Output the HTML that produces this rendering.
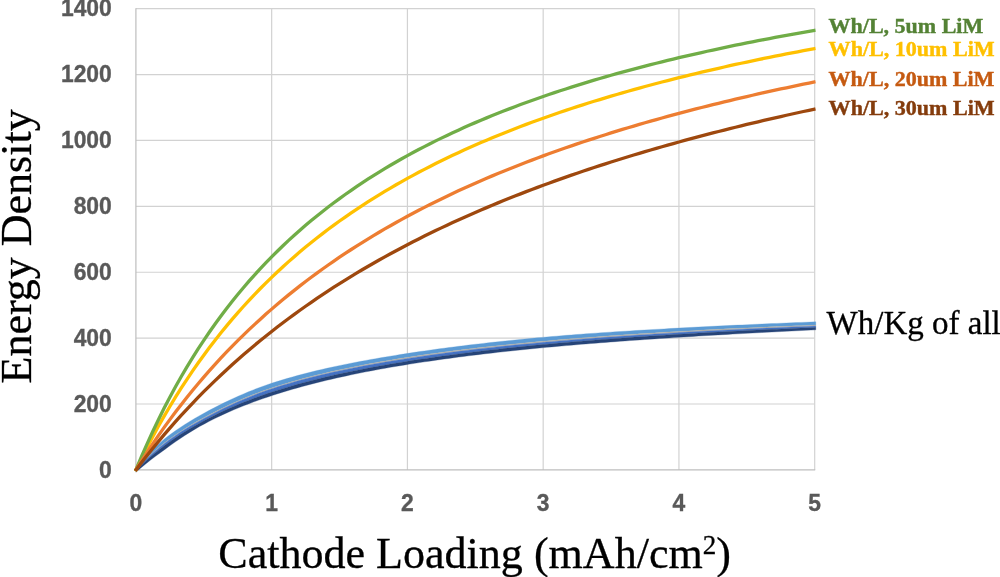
<!DOCTYPE html>
<html lang="en"><head><meta charset="utf-8"><title>Energy Density vs Cathode Loading</title>
<style>
html,body{margin:0;padding:0;background:#fff;}
body{width:1000px;height:577px;position:relative;overflow:hidden;}
</style></head><body>
<svg width="1000" height="577" viewBox="0 0 1000 577" style="position:absolute;left:0;top:0">
<rect width="1000" height="577" fill="#fff"/>
<g stroke="#D2D2D2" stroke-width="1.2" fill="none"><line x1="135.9" y1="404.01" x2="814.7" y2="404.01"/><line x1="135.9" y1="338.12" x2="814.7" y2="338.12"/><line x1="135.9" y1="272.23" x2="814.7" y2="272.23"/><line x1="135.9" y1="206.33" x2="814.7" y2="206.33"/><line x1="135.9" y1="140.44" x2="814.7" y2="140.44"/><line x1="135.9" y1="74.55" x2="814.7" y2="74.55"/><line x1="135.9" y1="8.66" x2="814.7" y2="8.66"/><line x1="271.66" y1="8.66" x2="271.66" y2="469.90"/><line x1="407.42" y1="8.66" x2="407.42" y2="469.90"/><line x1="543.18" y1="8.66" x2="543.18" y2="469.90"/><line x1="678.94" y1="8.66" x2="678.94" y2="469.90"/><line x1="814.70" y1="8.66" x2="814.70" y2="469.90"/></g>
<g stroke="#BEBEBE" stroke-width="1.2"><line x1="135.9" y1="8.16" x2="135.9" y2="470.40"/><line x1="135.4" y1="469.9" x2="815.2" y2="469.9"/></g>
<path d="M135.90,467.50 L140.79,461.89 L145.68,456.58 L150.57,451.57 L155.47,446.86 L160.36,442.45 L165.25,438.36 L170.14,434.58 L175.03,431.05 L179.92,427.69 L184.81,424.49 L189.70,421.44 L194.60,418.51 L199.49,415.69 L204.38,412.97 L209.27,410.33 L214.16,407.76 L219.05,405.27 L223.94,402.84 L228.83,400.49 L233.73,398.22 L238.62,396.02 L243.51,393.89 L248.40,391.84 L253.29,389.88 L258.18,387.99 L263.07,386.19 L267.96,384.48 L272.86,382.86 L277.75,381.31 L282.64,379.81 L287.53,378.36 L292.42,376.95 L297.31,375.60 L302.20,374.29 L307.09,373.02 L311.99,371.79 L316.88,370.60 L321.77,369.45 L326.66,368.33 L331.55,367.24 L336.44,366.18 L341.33,365.16 L346.22,364.16 L351.12,363.18 L356.01,362.24 L360.90,361.31 L365.79,360.41 L370.68,359.53 L375.57,358.67 L380.46,357.82 L385.35,356.99 L390.25,356.18 L395.14,355.39 L400.03,354.61 L404.92,353.84 L409.81,353.08 L414.70,352.34 L419.59,351.61 L424.48,350.90 L429.38,350.21 L434.27,349.52 L439.16,348.85 L444.05,348.20 L448.94,347.55 L453.83,346.92 L458.72,346.30 L463.61,345.69 L468.51,345.10 L473.40,344.51 L478.29,343.94 L483.18,343.38 L488.07,342.83 L492.96,342.29 L497.85,341.76 L502.75,341.24 L507.64,340.73 L512.53,340.23 L517.42,339.73 L522.31,339.25 L527.20,338.78 L532.09,338.32 L536.98,337.86 L541.88,337.42 L546.77,336.98 L551.66,336.56 L556.55,336.14 L561.44,335.73 L566.33,335.34 L571.22,334.95 L576.11,334.57 L581.01,334.20 L585.90,333.84 L590.79,333.48 L595.68,333.14 L600.57,332.80 L605.46,332.46 L610.35,332.14 L615.24,331.81 L620.14,331.50 L625.03,331.19 L629.92,330.89 L634.81,330.59 L639.70,330.29 L644.59,330.00 L649.48,329.71 L654.37,329.43 L659.27,329.15 L664.16,328.88 L669.05,328.60 L673.94,328.33 L678.83,328.07 L683.72,327.80 L688.61,327.54 L693.50,327.28 L698.40,327.03 L703.29,326.78 L708.18,326.53 L713.07,326.29 L717.96,326.05 L722.85,325.81 L727.74,325.58 L732.63,325.35 L737.53,325.12 L742.42,324.90 L747.31,324.68 L752.20,324.46 L757.09,324.24 L761.98,324.03 L766.87,323.82 L771.76,323.61 L776.66,323.41 L781.55,323.21 L786.44,323.01 L791.33,322.81 L796.22,322.62 L801.11,322.42 L806.00,322.23 L810.89,322.04 L815.79,321.85 L815.79,325.05 L810.89,325.25 L806.00,325.43 L801.11,325.63 L796.22,325.82 L791.33,326.02 L786.44,326.22 L781.55,326.42 L776.66,326.62 L771.76,326.83 L766.87,327.04 L761.98,327.26 L757.09,327.48 L752.20,327.70 L747.31,327.92 L742.42,328.15 L737.53,328.38 L732.63,328.62 L727.74,328.85 L722.85,329.10 L717.96,329.34 L713.07,329.59 L708.18,329.84 L703.29,330.10 L698.40,330.36 L693.50,330.63 L688.61,330.90 L683.72,331.17 L678.83,331.45 L673.94,331.73 L669.05,332.01 L664.16,332.30 L659.27,332.60 L654.37,332.90 L649.48,333.20 L644.59,333.51 L639.70,333.82 L634.81,334.14 L629.92,334.47 L625.03,334.80 L620.14,335.13 L615.24,335.47 L610.35,335.81 L605.46,336.17 L600.57,336.52 L595.68,336.88 L590.79,337.25 L585.90,337.63 L581.01,338.01 L576.11,338.40 L571.22,338.79 L566.33,339.20 L561.44,339.61 L556.55,340.02 L551.66,340.45 L546.77,340.88 L541.88,341.32 L536.98,341.77 L532.09,342.22 L527.20,342.69 L522.31,343.16 L517.42,343.64 L512.53,344.13 L507.64,344.63 L502.75,345.14 L497.85,345.66 L492.96,346.19 L488.07,346.73 L483.18,347.27 L478.29,347.83 L473.40,348.41 L468.51,348.99 L463.61,349.58 L458.72,350.19 L453.83,350.80 L448.94,351.44 L444.05,352.08 L439.16,352.74 L434.27,353.41 L429.38,354.09 L424.48,354.79 L419.59,355.50 L414.70,356.23 L409.81,356.98 L404.92,357.74 L400.03,358.52 L395.14,359.32 L390.25,360.13 L385.35,360.96 L380.46,361.82 L375.57,362.69 L370.68,363.58 L365.79,364.50 L360.90,365.44 L356.01,366.40 L351.12,367.38 L346.22,368.40 L341.33,369.43 L336.44,370.50 L331.55,371.60 L326.66,372.72 L321.77,373.88 L316.88,375.07 L311.99,376.29 L307.09,377.55 L302.20,378.85 L297.31,380.18 L292.42,381.56 L287.53,382.98 L282.64,384.44 L277.75,385.95 L272.86,387.51 L267.96,389.13 L263.07,390.84 L258.18,392.64 L253.29,394.53 L248.40,396.49 L243.51,398.53 L238.62,400.64 L233.73,402.83 L228.83,405.09 L223.94,407.42 L219.05,409.81 L214.16,412.27 L209.27,414.79 L204.38,417.38 L199.49,420.05 L194.60,422.83 L189.70,425.72 L184.81,428.75 L179.92,431.91 L175.03,435.22 L170.14,438.68 L165.25,442.34 L160.36,446.22 L155.47,450.33 L150.57,454.68 L145.68,459.28 L140.79,464.14 L135.90,469.27Z" fill="#5B9BD5" stroke="#5B9BD5" stroke-width="0.3"/>
<path d="M135.90,469.27 L140.79,464.14 L145.68,459.28 L150.57,454.68 L155.47,450.33 L160.36,446.22 L165.25,442.34 L170.14,438.68 L175.03,435.22 L179.92,431.91 L184.81,428.75 L189.70,425.72 L194.60,422.83 L199.49,420.05 L204.38,417.38 L209.27,414.79 L214.16,412.27 L219.05,409.81 L223.94,407.42 L228.83,405.09 L233.73,402.83 L238.62,400.64 L243.51,398.53 L248.40,396.49 L253.29,394.53 L258.18,392.64 L263.07,390.84 L267.96,389.13 L272.86,387.51 L277.75,385.95 L282.64,384.44 L287.53,382.98 L292.42,381.56 L297.31,380.18 L302.20,378.85 L307.09,377.55 L311.99,376.29 L316.88,375.07 L321.77,373.88 L326.66,372.72 L331.55,371.60 L336.44,370.50 L341.33,369.43 L346.22,368.40 L351.12,367.38 L356.01,366.40 L360.90,365.44 L365.79,364.50 L370.68,363.58 L375.57,362.69 L380.46,361.82 L385.35,360.96 L390.25,360.13 L395.14,359.32 L400.03,358.52 L404.92,357.74 L409.81,356.98 L414.70,356.23 L419.59,355.50 L424.48,354.79 L429.38,354.09 L434.27,353.41 L439.16,352.74 L444.05,352.08 L448.94,351.44 L453.83,350.80 L458.72,350.19 L463.61,349.58 L468.51,348.99 L473.40,348.41 L478.29,347.83 L483.18,347.27 L488.07,346.73 L492.96,346.19 L497.85,345.66 L502.75,345.14 L507.64,344.63 L512.53,344.13 L517.42,343.64 L522.31,343.16 L527.20,342.69 L532.09,342.22 L536.98,341.77 L541.88,341.32 L546.77,340.88 L551.66,340.45 L556.55,340.02 L561.44,339.61 L566.33,339.20 L571.22,338.79 L576.11,338.40 L581.01,338.01 L585.90,337.63 L590.79,337.25 L595.68,336.88 L600.57,336.52 L605.46,336.17 L610.35,335.81 L615.24,335.47 L620.14,335.13 L625.03,334.80 L629.92,334.47 L634.81,334.14 L639.70,333.82 L644.59,333.51 L649.48,333.20 L654.37,332.90 L659.27,332.60 L664.16,332.30 L669.05,332.01 L673.94,331.73 L678.83,331.45 L683.72,331.17 L688.61,330.90 L693.50,330.63 L698.40,330.36 L703.29,330.10 L708.18,329.84 L713.07,329.59 L717.96,329.34 L722.85,329.10 L727.74,328.85 L732.63,328.62 L737.53,328.38 L742.42,328.15 L747.31,327.92 L752.20,327.70 L757.09,327.48 L761.98,327.26 L766.87,327.04 L771.76,326.83 L776.66,326.62 L781.55,326.42 L786.44,326.22 L791.33,326.02 L796.22,325.82 L801.11,325.63 L806.00,325.43 L810.89,325.25 L815.79,325.05 L815.79,326.05 L810.89,326.25 L806.00,326.45 L801.11,326.65 L796.22,326.85 L791.33,327.05 L786.44,327.26 L781.55,327.47 L776.66,327.68 L771.76,327.90 L766.87,328.12 L761.98,328.34 L757.09,328.56 L752.20,328.79 L747.31,329.02 L742.42,329.25 L737.53,329.49 L732.63,329.73 L727.74,329.97 L722.85,330.22 L717.96,330.47 L713.07,330.72 L708.18,330.98 L703.29,331.24 L698.40,331.51 L693.50,331.78 L688.61,332.05 L683.72,332.33 L678.83,332.61 L673.94,332.89 L669.05,333.18 L664.16,333.47 L659.27,333.77 L654.37,334.07 L649.48,334.38 L644.59,334.69 L639.70,335.01 L634.81,335.33 L629.92,335.65 L625.03,335.98 L620.14,336.32 L615.24,336.66 L610.35,337.01 L605.46,337.36 L600.57,337.72 L595.68,338.08 L590.79,338.45 L585.90,338.83 L581.01,339.21 L576.11,339.60 L571.22,340.00 L566.33,340.40 L561.44,340.81 L556.55,341.22 L551.66,341.65 L546.77,342.08 L541.88,342.52 L536.98,342.96 L532.09,343.42 L527.20,343.88 L522.31,344.36 L517.42,344.84 L512.53,345.33 L507.64,345.82 L502.75,346.33 L497.85,346.85 L492.96,347.38 L488.07,347.92 L483.18,348.46 L478.29,349.02 L473.40,349.59 L468.51,350.17 L463.61,350.77 L458.72,351.37 L453.83,351.98 L448.94,352.61 L444.05,353.25 L439.16,353.91 L434.27,354.58 L429.38,355.26 L424.48,355.95 L419.59,356.66 L414.70,357.39 L409.81,358.13 L404.92,358.89 L400.03,359.66 L395.14,360.45 L390.25,361.26 L385.35,362.08 L380.46,362.93 L375.57,363.79 L370.68,364.67 L365.79,365.57 L360.90,366.50 L356.01,367.45 L351.12,368.42 L346.22,369.42 L341.33,370.45 L336.44,371.50 L331.55,372.59 L326.66,373.70 L321.77,374.85 L316.88,376.02 L311.99,377.24 L307.09,378.49 L302.20,379.78 L297.31,381.10 L292.42,382.47 L287.53,383.89 L282.64,385.35 L277.75,386.85 L272.86,388.41 L267.96,390.03 L263.07,391.74 L258.18,393.54 L253.29,395.43 L248.40,397.39 L243.51,399.43 L238.62,401.55 L233.73,403.74 L228.83,406.00 L223.94,408.32 L219.05,410.72 L214.16,413.17 L209.27,415.70 L204.38,418.28 L199.49,420.93 L194.60,423.68 L189.70,426.53 L184.81,429.50 L179.92,432.62 L175.03,435.89 L170.14,439.33 L165.25,442.98 L160.36,446.84 L155.47,450.92 L150.57,455.23 L145.68,459.79 L140.79,464.62 L135.90,469.72Z" fill="#B3B0A8" stroke="#B3B0A8" stroke-width="0.3"/>
<path d="M135.90,469.72 L140.79,464.62 L145.68,459.79 L150.57,455.23 L155.47,450.92 L160.36,446.84 L165.25,442.98 L170.14,439.33 L175.03,435.89 L179.92,432.62 L184.81,429.50 L189.70,426.53 L194.60,423.68 L199.49,420.93 L204.38,418.28 L209.27,415.70 L214.16,413.17 L219.05,410.72 L223.94,408.32 L228.83,406.00 L233.73,403.74 L238.62,401.55 L243.51,399.43 L248.40,397.39 L253.29,395.43 L258.18,393.54 L263.07,391.74 L267.96,390.03 L272.86,388.41 L277.75,386.85 L282.64,385.35 L287.53,383.89 L292.42,382.47 L297.31,381.10 L302.20,379.78 L307.09,378.49 L311.99,377.24 L316.88,376.02 L321.77,374.85 L326.66,373.70 L331.55,372.59 L336.44,371.50 L341.33,370.45 L346.22,369.42 L351.12,368.42 L356.01,367.45 L360.90,366.50 L365.79,365.57 L370.68,364.67 L375.57,363.79 L380.46,362.93 L385.35,362.08 L390.25,361.26 L395.14,360.45 L400.03,359.66 L404.92,358.89 L409.81,358.13 L414.70,357.39 L419.59,356.66 L424.48,355.95 L429.38,355.26 L434.27,354.58 L439.16,353.91 L444.05,353.25 L448.94,352.61 L453.83,351.98 L458.72,351.37 L463.61,350.77 L468.51,350.17 L473.40,349.59 L478.29,349.02 L483.18,348.46 L488.07,347.92 L492.96,347.38 L497.85,346.85 L502.75,346.33 L507.64,345.82 L512.53,345.33 L517.42,344.84 L522.31,344.36 L527.20,343.88 L532.09,343.42 L536.98,342.96 L541.88,342.52 L546.77,342.08 L551.66,341.65 L556.55,341.22 L561.44,340.81 L566.33,340.40 L571.22,340.00 L576.11,339.60 L581.01,339.21 L585.90,338.83 L590.79,338.45 L595.68,338.08 L600.57,337.72 L605.46,337.36 L610.35,337.01 L615.24,336.66 L620.14,336.32 L625.03,335.98 L629.92,335.65 L634.81,335.33 L639.70,335.01 L644.59,334.69 L649.48,334.38 L654.37,334.07 L659.27,333.77 L664.16,333.47 L669.05,333.18 L673.94,332.89 L678.83,332.61 L683.72,332.33 L688.61,332.05 L693.50,331.78 L698.40,331.51 L703.29,331.24 L708.18,330.98 L713.07,330.72 L717.96,330.47 L722.85,330.22 L727.74,329.97 L732.63,329.73 L737.53,329.49 L742.42,329.25 L747.31,329.02 L752.20,328.79 L757.09,328.56 L761.98,328.34 L766.87,328.12 L771.76,327.90 L776.66,327.68 L781.55,327.47 L786.44,327.26 L791.33,327.05 L796.22,326.85 L801.11,326.65 L806.00,326.45 L810.89,326.25 L815.79,326.05 L815.79,327.45 L810.89,327.66 L806.00,327.86 L801.11,328.06 L796.22,328.27 L791.33,328.48 L786.44,328.69 L781.55,328.91 L776.66,329.13 L771.76,329.35 L766.87,329.58 L761.98,329.81 L757.09,330.04 L752.20,330.27 L747.31,330.51 L742.42,330.76 L737.53,331.00 L732.63,331.25 L727.74,331.50 L722.85,331.76 L717.96,332.02 L713.07,332.29 L708.18,332.55 L703.29,332.83 L698.40,333.10 L693.50,333.39 L688.61,333.67 L683.72,333.96 L678.83,334.26 L673.94,334.56 L669.05,334.86 L664.16,335.17 L659.27,335.48 L654.37,335.80 L649.48,336.12 L644.59,336.45 L639.70,336.78 L634.81,337.12 L629.92,337.46 L625.03,337.80 L620.14,338.16 L615.24,338.52 L610.35,338.88 L605.46,339.25 L600.57,339.62 L595.68,340.00 L590.79,340.39 L585.90,340.78 L581.01,341.18 L576.11,341.59 L571.22,342.00 L566.33,342.42 L561.44,342.85 L556.55,343.28 L551.66,343.72 L546.77,344.17 L541.88,344.62 L536.98,345.09 L532.09,345.56 L527.20,346.04 L522.31,346.54 L517.42,347.04 L512.53,347.55 L507.64,348.08 L502.75,348.61 L497.85,349.15 L492.96,349.71 L488.07,350.27 L483.18,350.84 L478.29,351.43 L473.40,352.03 L468.51,352.63 L463.61,353.25 L458.72,353.88 L453.83,354.52 L448.94,355.18 L444.05,355.84 L439.16,356.52 L434.27,357.21 L429.38,357.92 L424.48,358.64 L419.59,359.37 L414.70,360.11 L409.81,360.87 L404.92,361.65 L400.03,362.44 L395.14,363.25 L390.25,364.08 L385.35,364.92 L380.46,365.79 L375.57,366.67 L370.68,367.58 L365.79,368.51 L360.90,369.46 L356.01,370.43 L351.12,371.43 L346.22,372.46 L341.33,373.51 L336.44,374.59 L331.55,375.69 L326.66,376.83 L321.77,378.00 L316.88,379.20 L311.99,380.43 L307.09,381.70 L302.20,383.01 L297.31,384.35 L292.42,385.73 L287.53,387.16 L282.64,388.63 L277.75,390.15 L272.86,391.71 L267.96,393.33 L263.07,395.00 L258.18,396.74 L253.29,398.54 L248.40,400.40 L243.51,402.33 L238.62,404.33 L233.73,406.40 L228.83,408.54 L223.94,410.76 L219.05,413.06 L214.16,415.45 L209.27,417.92 L204.38,420.48 L199.49,423.14 L194.60,425.89 L189.70,428.75 L184.81,431.73 L179.92,434.84 L175.03,438.08 L170.14,441.49 L165.25,445.05 L160.36,448.78 L155.47,452.69 L150.57,456.80 L145.68,461.13 L140.79,465.69 L135.90,470.51Z" fill="#4472C4" stroke="#4472C4" stroke-width="0.3"/>
<path d="M135.90,470.51 L140.79,465.69 L145.68,461.13 L150.57,456.80 L155.47,452.69 L160.36,448.78 L165.25,445.05 L170.14,441.49 L175.03,438.08 L179.92,434.84 L184.81,431.73 L189.70,428.75 L194.60,425.89 L199.49,423.14 L204.38,420.48 L209.27,417.92 L214.16,415.45 L219.05,413.06 L223.94,410.76 L228.83,408.54 L233.73,406.40 L238.62,404.33 L243.51,402.33 L248.40,400.40 L253.29,398.54 L258.18,396.74 L263.07,395.00 L267.96,393.33 L272.86,391.71 L277.75,390.15 L282.64,388.63 L287.53,387.16 L292.42,385.73 L297.31,384.35 L302.20,383.01 L307.09,381.70 L311.99,380.43 L316.88,379.20 L321.77,378.00 L326.66,376.83 L331.55,375.69 L336.44,374.59 L341.33,373.51 L346.22,372.46 L351.12,371.43 L356.01,370.43 L360.90,369.46 L365.79,368.51 L370.68,367.58 L375.57,366.67 L380.46,365.79 L385.35,364.92 L390.25,364.08 L395.14,363.25 L400.03,362.44 L404.92,361.65 L409.81,360.87 L414.70,360.11 L419.59,359.37 L424.48,358.64 L429.38,357.92 L434.27,357.21 L439.16,356.52 L444.05,355.84 L448.94,355.18 L453.83,354.52 L458.72,353.88 L463.61,353.25 L468.51,352.63 L473.40,352.03 L478.29,351.43 L483.18,350.84 L488.07,350.27 L492.96,349.71 L497.85,349.15 L502.75,348.61 L507.64,348.08 L512.53,347.55 L517.42,347.04 L522.31,346.54 L527.20,346.04 L532.09,345.56 L536.98,345.09 L541.88,344.62 L546.77,344.17 L551.66,343.72 L556.55,343.28 L561.44,342.85 L566.33,342.42 L571.22,342.00 L576.11,341.59 L581.01,341.18 L585.90,340.78 L590.79,340.39 L595.68,340.00 L600.57,339.62 L605.46,339.25 L610.35,338.88 L615.24,338.52 L620.14,338.16 L625.03,337.80 L629.92,337.46 L634.81,337.12 L639.70,336.78 L644.59,336.45 L649.48,336.12 L654.37,335.80 L659.27,335.48 L664.16,335.17 L669.05,334.86 L673.94,334.56 L678.83,334.26 L683.72,333.96 L688.61,333.67 L693.50,333.39 L698.40,333.10 L703.29,332.83 L708.18,332.55 L713.07,332.29 L717.96,332.02 L722.85,331.76 L727.74,331.50 L732.63,331.25 L737.53,331.00 L742.42,330.76 L747.31,330.51 L752.20,330.27 L757.09,330.04 L761.98,329.81 L766.87,329.58 L771.76,329.35 L776.66,329.13 L781.55,328.91 L786.44,328.69 L791.33,328.48 L796.22,328.27 L801.11,328.06 L806.00,327.86 L810.89,327.66 L815.79,327.45 L815.79,329.85 L810.89,330.08 L806.00,330.31 L801.11,330.55 L796.22,330.79 L791.33,331.03 L786.44,331.27 L781.55,331.52 L776.66,331.77 L771.76,332.02 L766.87,332.27 L761.98,332.53 L757.09,332.78 L752.20,333.05 L747.31,333.31 L742.42,333.58 L737.53,333.84 L732.63,334.12 L727.74,334.39 L722.85,334.67 L717.96,334.95 L713.07,335.23 L708.18,335.52 L703.29,335.81 L698.40,336.10 L693.50,336.40 L688.61,336.70 L683.72,337.00 L678.83,337.31 L673.94,337.62 L669.05,337.93 L664.16,338.25 L659.27,338.57 L654.37,338.89 L649.48,339.22 L644.59,339.56 L639.70,339.89 L634.81,340.24 L629.92,340.58 L625.03,340.94 L620.14,341.29 L615.24,341.66 L610.35,342.02 L605.46,342.40 L600.57,342.77 L595.68,343.16 L590.79,343.55 L585.90,343.95 L581.01,344.35 L576.11,344.76 L571.22,345.17 L566.33,345.60 L561.44,346.03 L556.55,346.46 L551.66,346.91 L546.77,347.36 L541.88,347.82 L536.98,348.29 L532.09,348.77 L527.20,349.26 L522.31,349.75 L517.42,350.26 L512.53,350.77 L507.64,351.29 L502.75,351.82 L497.85,352.37 L492.96,352.92 L488.07,353.48 L483.18,354.05 L478.29,354.64 L473.40,355.23 L468.51,355.84 L463.61,356.46 L458.72,357.09 L453.83,357.73 L448.94,358.38 L444.05,359.05 L439.16,359.73 L434.27,360.43 L429.38,361.13 L424.48,361.86 L419.59,362.60 L414.70,363.35 L409.81,364.12 L404.92,364.90 L400.03,365.71 L395.14,366.53 L390.25,367.37 L385.35,368.23 L380.46,369.11 L375.57,370.01 L370.68,370.93 L365.79,371.87 L360.90,372.84 L356.01,373.83 L351.12,374.84 L346.22,375.88 L341.33,376.95 L336.44,378.04 L331.55,379.16 L326.66,380.31 L321.77,381.50 L316.88,382.71 L311.99,383.96 L307.09,385.24 L302.20,386.55 L297.31,387.91 L292.42,389.30 L287.53,390.74 L282.64,392.22 L277.75,393.74 L272.86,395.31 L267.96,396.93 L263.07,398.60 L258.18,400.32 L253.29,402.10 L248.40,403.94 L243.51,405.85 L238.62,407.82 L233.73,409.86 L228.83,411.98 L223.94,414.18 L219.05,416.46 L214.16,418.84 L209.27,421.31 L204.38,423.88 L199.49,426.57 L194.60,429.41 L189.70,432.39 L184.81,435.49 L179.92,438.73 L175.03,442.10 L170.14,445.58 L165.25,449.14 L160.36,452.72 L155.47,456.35 L150.57,460.09 L145.68,463.96 L140.79,468.02 L135.90,472.30Z" fill="#264478" stroke="#264478" stroke-width="0.3"/>
<g fill="none" stroke-linecap="butt" stroke-linejoin="round">
<path d="M135.37,470.98 L135.90,469.90 L141.56,458.31 L147.21,447.15 L152.87,436.41 L158.53,426.07 L164.18,416.09 L169.84,406.47 L175.50,397.18 L181.15,388.21 L186.81,379.54 L192.47,371.15 L198.12,363.04 L203.78,355.18 L209.44,347.57 L215.09,340.20 L220.75,333.05 L226.41,326.12 L232.06,319.39 L237.72,312.86 L243.38,306.51 L249.03,300.34 L254.69,294.35 L260.35,288.52 L266.00,282.85 L271.66,277.33 L277.32,271.95 L282.97,266.72 L288.63,261.62 L294.29,256.65 L299.94,251.81 L305.60,247.09 L311.26,242.48 L316.91,237.98 L322.57,233.59 L328.23,229.30 L333.88,225.12 L339.54,221.03 L345.20,217.03 L350.85,213.13 L356.51,209.31 L362.17,205.57 L367.82,201.92 L373.48,198.35 L379.14,194.85 L384.79,191.42 L390.45,188.07 L396.11,184.79 L401.76,181.57 L407.42,178.42 L413.08,175.33 L418.73,172.31 L424.39,169.34 L430.05,166.43 L435.70,163.58 L441.36,160.78 L447.02,158.03 L452.67,155.34 L458.33,152.70 L463.99,150.10 L469.64,147.55 L475.30,145.05 L480.96,142.59 L486.61,140.18 L492.27,137.81 L497.93,135.48 L503.58,133.19 L509.24,130.94 L514.90,128.73 L520.55,126.55 L526.21,124.41 L531.87,122.31 L537.52,120.24 L543.18,118.21 L548.84,116.21 L554.49,114.24 L560.15,112.30 L565.81,110.39 L571.46,108.51 L577.12,106.66 L582.78,104.84 L588.43,103.05 L594.09,101.29 L599.75,99.55 L605.40,97.84 L611.06,96.15 L616.72,94.49 L622.37,92.85 L628.03,91.24 L633.69,89.64 L639.34,88.08 L645.00,86.53 L650.66,85.01 L656.31,83.50 L661.97,82.02 L667.63,80.56 L673.28,79.12 L678.94,77.70 L684.60,76.30 L690.25,74.91 L695.91,73.55 L701.57,72.20 L707.22,70.87 L712.88,69.56 L718.54,68.27 L724.19,66.99 L729.85,65.73 L735.51,64.48 L741.16,63.25 L746.82,62.04 L752.48,60.84 L758.13,59.66 L763.79,58.49 L769.45,57.33 L775.10,56.19 L780.76,55.07 L786.42,53.95 L792.07,52.85 L797.73,51.77 L803.39,50.69 L809.04,49.63 L814.70,48.58 L815.49,48.44" stroke="#FFC000" stroke-width="3.3"/>
<path d="M135.44,471.01 L135.90,469.90 L141.56,456.43 L147.21,443.55 L152.87,431.22 L158.53,419.42 L164.18,408.10 L169.84,397.24 L175.50,386.81 L181.15,376.79 L186.81,367.15 L192.47,357.87 L198.12,348.93 L203.78,340.31 L209.44,332.00 L215.09,323.98 L220.75,316.23 L226.41,308.75 L232.06,301.51 L237.72,294.50 L243.38,287.72 L249.03,281.16 L254.69,274.80 L260.35,268.63 L266.00,262.65 L271.66,256.84 L277.32,251.21 L282.97,245.74 L288.63,240.42 L294.29,235.25 L299.94,230.23 L305.60,225.34 L311.26,220.58 L316.91,215.95 L322.57,211.44 L328.23,207.05 L333.88,202.76 L339.54,198.59 L345.20,194.52 L350.85,190.55 L356.51,186.68 L362.17,182.90 L367.82,179.21 L373.48,175.60 L379.14,172.08 L384.79,168.64 L390.45,165.28 L396.11,161.99 L401.76,158.77 L407.42,155.63 L413.08,152.55 L418.73,149.54 L424.39,146.59 L430.05,143.71 L435.70,140.88 L441.36,138.11 L447.02,135.40 L452.67,132.75 L458.33,130.14 L463.99,127.59 L469.64,125.09 L475.30,122.63 L480.96,120.22 L486.61,117.86 L492.27,115.55 L497.93,113.27 L503.58,111.04 L509.24,108.85 L514.90,106.70 L520.55,104.58 L526.21,102.51 L531.87,100.47 L537.52,98.47 L543.18,96.50 L548.84,94.56 L554.49,92.66 L560.15,90.79 L565.81,88.95 L571.46,87.14 L577.12,85.37 L582.78,83.62 L588.43,81.90 L594.09,80.20 L599.75,78.54 L605.40,76.90 L611.06,75.28 L616.72,73.69 L622.37,72.13 L628.03,70.59 L633.69,69.07 L639.34,67.58 L645.00,66.11 L650.66,64.66 L656.31,63.23 L661.97,61.82 L667.63,60.44 L673.28,59.07 L678.94,57.72 L684.60,56.39 L690.25,55.08 L695.91,53.79 L701.57,52.52 L707.22,51.26 L712.88,50.03 L718.54,48.81 L724.19,47.60 L729.85,46.41 L735.51,45.24 L741.16,44.08 L746.82,42.94 L752.48,41.82 L758.13,40.70 L763.79,39.61 L769.45,38.52 L775.10,37.45 L780.76,36.40 L786.42,35.36 L792.07,34.33 L797.73,33.31 L803.39,32.30 L809.04,31.31 L814.70,30.33 L815.49,30.20" stroke="#70AD47" stroke-width="3.3"/>
<path d="M135.26,470.92 L135.90,469.90 L141.56,460.89 L147.21,452.14 L152.87,443.65 L158.53,435.40 L164.18,427.39 L169.84,419.60 L175.50,412.02 L181.15,404.65 L186.81,397.48 L192.47,390.50 L198.12,383.70 L203.78,377.08 L209.44,370.62 L215.09,364.33 L220.75,358.19 L226.41,352.21 L232.06,346.36 L237.72,340.66 L243.38,335.10 L249.03,329.66 L254.69,324.35 L260.35,319.16 L266.00,314.09 L271.66,309.13 L277.32,304.28 L282.97,299.53 L288.63,294.89 L294.29,290.35 L299.94,285.90 L305.60,281.55 L311.26,277.29 L316.91,273.11 L322.57,269.02 L328.23,265.01 L333.88,261.08 L339.54,257.23 L345.20,253.46 L350.85,249.75 L356.51,246.12 L362.17,242.56 L367.82,239.06 L373.48,235.63 L379.14,232.26 L384.79,228.95 L390.45,225.70 L396.11,222.51 L401.76,219.38 L407.42,216.30 L413.08,213.28 L418.73,210.31 L424.39,207.39 L430.05,204.52 L435.70,201.70 L441.36,198.92 L447.02,196.19 L452.67,193.51 L458.33,190.87 L463.99,188.27 L469.64,185.71 L475.30,183.20 L480.96,180.72 L486.61,178.29 L492.27,175.89 L497.93,173.53 L503.58,171.20 L509.24,168.91 L514.90,166.66 L520.55,164.43 L526.21,162.25 L531.87,160.09 L537.52,157.96 L543.18,155.87 L548.84,153.81 L554.49,151.77 L560.15,149.77 L565.81,147.79 L571.46,145.84 L577.12,143.92 L582.78,142.02 L588.43,140.15 L594.09,138.31 L599.75,136.49 L605.40,134.70 L611.06,132.93 L616.72,131.18 L622.37,129.45 L628.03,127.75 L633.69,126.07 L639.34,124.42 L645.00,122.78 L650.66,121.17 L656.31,119.57 L661.97,118.00 L667.63,116.44 L673.28,114.91 L678.94,113.39 L684.60,111.89 L690.25,110.41 L695.91,108.95 L701.57,107.51 L707.22,106.08 L712.88,104.67 L718.54,103.28 L724.19,101.90 L729.85,100.54 L735.51,99.20 L741.16,97.87 L746.82,96.55 L752.48,95.26 L758.13,93.97 L763.79,92.70 L769.45,91.45 L775.10,90.21 L780.76,88.98 L786.42,87.77 L792.07,86.57 L797.73,85.38 L803.39,84.21 L809.04,83.05 L814.70,81.90 L815.48,81.74" stroke="#ED7D31" stroke-width="3.3"/>
<path d="M135.17,470.85 L135.90,469.90 L141.56,462.50 L147.21,455.29 L152.87,448.25 L158.53,441.37 L164.18,434.65 L169.84,428.09 L175.50,421.68 L181.15,415.42 L186.81,409.29 L192.47,403.30 L198.12,397.44 L203.78,391.71 L209.44,386.09 L215.09,380.60 L220.75,375.23 L226.41,369.96 L232.06,364.80 L237.72,359.75 L243.38,354.80 L249.03,349.94 L254.69,345.19 L260.35,340.52 L266.00,335.95 L271.66,331.46 L277.32,327.06 L282.97,322.74 L288.63,318.50 L294.29,314.34 L299.94,310.26 L305.60,306.24 L311.26,302.31 L316.91,298.44 L322.57,294.64 L328.23,290.90 L333.88,287.23 L339.54,283.62 L345.20,280.08 L350.85,276.59 L356.51,273.16 L362.17,269.79 L367.82,266.48 L373.48,263.22 L379.14,260.01 L384.79,256.85 L390.45,253.75 L396.11,250.69 L401.76,247.68 L407.42,244.72 L413.08,241.80 L418.73,238.93 L424.39,236.10 L430.05,233.31 L435.70,230.57 L441.36,227.87 L447.02,225.20 L452.67,222.58 L458.33,219.99 L463.99,217.44 L469.64,214.93 L475.30,212.46 L480.96,210.01 L486.61,207.61 L492.27,205.23 L497.93,202.89 L503.58,200.58 L509.24,198.31 L514.90,196.06 L520.55,193.84 L526.21,191.66 L531.87,189.50 L537.52,187.37 L543.18,185.27 L548.84,183.20 L554.49,181.15 L560.15,179.13 L565.81,177.13 L571.46,175.16 L577.12,173.22 L582.78,171.30 L588.43,169.40 L594.09,167.53 L599.75,165.68 L605.40,163.85 L611.06,162.05 L616.72,160.26 L622.37,158.50 L628.03,156.76 L633.69,155.04 L639.34,153.34 L645.00,151.66 L650.66,150.00 L656.31,148.36 L661.97,146.74 L667.63,145.14 L673.28,143.55 L678.94,141.98 L684.60,140.43 L690.25,138.90 L695.91,137.39 L701.57,135.89 L707.22,134.41 L712.88,132.94 L718.54,131.49 L724.19,130.06 L729.85,128.64 L735.51,127.24 L741.16,125.85 L746.82,124.47 L752.48,123.11 L758.13,121.77 L763.79,120.44 L769.45,119.12 L775.10,117.82 L780.76,116.53 L786.42,115.25 L792.07,113.99 L797.73,112.74 L803.39,111.50 L809.04,110.27 L814.70,109.06 L815.48,108.89" stroke="#9E480E" stroke-width="3.3"/>
</g>
<g font-family="'Liberation Sans', Arial, sans-serif" font-weight="700" font-size="24" fill="#595959" stroke="#595959" stroke-width="0.35">
<text transform="translate(111.8,477.5) scale(0.953,1)" text-anchor="end">0</text>
<text transform="translate(111.8,411.6) scale(0.953,1)" text-anchor="end">200</text>
<text transform="translate(111.8,345.7) scale(0.953,1)" text-anchor="end">400</text>
<text transform="translate(111.8,279.8) scale(0.953,1)" text-anchor="end">600</text>
<text transform="translate(111.8,213.9) scale(0.953,1)" text-anchor="end">800</text>
<text transform="translate(111.8,148.0) scale(0.953,1)" text-anchor="end">1000</text>
<text transform="translate(111.8,82.2) scale(0.953,1)" text-anchor="end">1200</text>
<text transform="translate(111.8,16.3) scale(0.953,1)" text-anchor="end">1400</text>
<text transform="translate(135.9,510.7) scale(0.953,1)" text-anchor="middle">0</text>
<text transform="translate(271.7,510.7) scale(0.953,1)" text-anchor="middle">1</text>
<text transform="translate(407.4,510.7) scale(0.953,1)" text-anchor="middle">2</text>
<text transform="translate(543.2,510.7) scale(0.953,1)" text-anchor="middle">3</text>
<text transform="translate(678.9,510.7) scale(0.953,1)" text-anchor="middle">4</text>
<text transform="translate(814.7,510.7) scale(0.953,1)" text-anchor="middle">5</text>
</g>
<g font-family="'Liberation Serif', 'Times New Roman', serif" font-weight="700" font-size="21.6">
<text x="828.6" y="32.85" fill="#548235" stroke="#548235" stroke-width="0.4" textLength="154.6" lengthAdjust="spacingAndGlyphs">Wh/L, 5um LiM</text>
<text x="828.6" y="56.4" fill="#FFC000" stroke="#FFC000" stroke-width="0.4" textLength="166.0" lengthAdjust="spacingAndGlyphs">Wh/L, 10um LiM</text>
<text x="828.6" y="85.7" fill="#C55A11" stroke="#C55A11" stroke-width="0.4" textLength="165.8" lengthAdjust="spacingAndGlyphs">Wh/L, 20um LiM</text>
<text x="828.6" y="114.9" fill="#843C0C" stroke="#843C0C" stroke-width="0.4" textLength="166.0" lengthAdjust="spacingAndGlyphs">Wh/L, 30um LiM</text>
</g>
<g font-family="'Liberation Serif', 'Times New Roman', serif" fill="#000" stroke="#000" stroke-width="0.3">
<text x="826.6" y="334.2" font-size="33">Wh/Kg of all</text>
<text x="218.3" y="567.7" font-size="44.05">Cathode Loading (mAh/cm<tspan font-size="27" dy="-14.2">2</tspan><tspan dy="14.2">)</tspan></text>
<text transform="translate(31.2,383.5) rotate(-90)" font-size="44">Energy Density</text>
</g>
</svg>
</body></html>
